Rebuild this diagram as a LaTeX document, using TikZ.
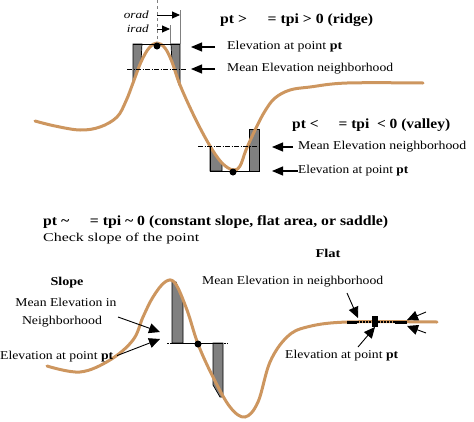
\documentclass[tikz,border=0pt]{standalone}
\usepackage{fontspec}
\setmainfont{Liberation Serif}
\usetikzlibrary{arrows.meta}
\definecolor{terra}{RGB}{205,150,95}
\newsavebox\fitbox
\newcommand\fitw[2]{\sbox\fitbox{#2}\pgfmathsetmacro\fitsc{#1/\the\wd\fitbox}\scalebox{\fitsc}[1]{\usebox\fitbox}}
\tikzset{
  lbl/.style={inner sep=0pt, anchor=west, font=\fontsize{12}{14}\selectfont},
  ttl/.style={inner sep=0pt, anchor=west, font=\bfseries\fontsize{14}{16}\selectfont},
  arr/.style={-{Triangle[length=11pt,width=9pt]}, line width=1.1pt},
  barr/.style={-{Triangle[length=11pt,width=10pt]}, line width=0.9pt},
  sarr/.style={-{Triangle[length=8pt,width=7pt]}, line width=0.9pt},
  terrain/.style={line width=3pt, color=terra, line cap=round},
  gbox/.style={fill=gray, draw=black, line width=0.7pt},
  dotn/.style={circle, fill=black, inner sep=0pt, minimum size=7pt},
  dashdot/.style={line width=0.8pt, dash pattern=on 5pt off 1.5pt on 1pt off 1.5pt},
}
\begin{document}
\begin{tikzpicture}[x=1pt,y=-1pt]
\useasboundingbox (0,0) rectangle (474,421);
% gray neighborhood blocks
\filldraw[gbox] (133,44) -- (142,44) -- (141,62) -- (133,83) -- cycle;
\filldraw[gbox] (171,44) -- (180,44) -- (180,85) -- (179,85) -- (172,62) -- cycle;
\filldraw[gbox] (210,146) -- (222,163) -- (222,171) -- (210,171) -- cycle;
\filldraw[gbox] (249,129) rectangle (259,171);
\filldraw[gbox] (172,282) -- (176,282) -- (183,300) -- (183,343) -- (172,343) -- cycle;
\filldraw[gbox] (213,343) -- (223,343) -- (223,397) -- (220,397) -- (213,385) -- cycle;
% terrain profiles
\draw[terrain] plot[smooth, tension=0.6] coordinates {(35,121) (55,126) (80,130) (100,127) (117,117) (126,101) (133,83) (141,62) (149,48) (157,43) (165,48) (172,62) (180,85) (195,118) (210,146) (222,163) (233,170) (240,166) (246,150) (256,128) (265,111) (275,98) (290,90) (310,87) (347,83) (423,83)};
\draw[terrain] plot[smooth, tension=0.6] coordinates {(47,366) (80,372) (110,360) (133,340) (143,317) (153,297) (165,282) (175,283) (187,310) (198,344) (213,377) (230,407) (245,417) (258,402) (270,362) (287,337) (307,327) (347,322) (437,322)};
% box outlines and mean-elevation lines
\draw[line width=0.8pt] (133,44) -- (180,44);
\draw[line width=0.8pt] (210,146) -- (210,171) -- (259,171) -- (259,129);
\draw[line width=0.8pt] (172,343) -- (223,343);
\draw[dashdot] (127,69) -- (187,69);
\draw[dashdot] (198,146) -- (259,146);
\draw[line width=0.8pt, dash pattern=on 1.5pt off 1.5pt] (167,343) -- (228,343);
% flat neighborhood
\draw[line width=3pt] (347,322) -- (357,322);
\draw[line width=1.5pt, dash pattern=on 1.5pt off 1.5pt] (357,322) -- (372,322);
\fill (372,316) rectangle (378,327);
\draw[line width=1.5pt, dash pattern=on 1.5pt off 1.5pt] (378,322) -- (395,322);
\draw[line width=3pt] (395,322) -- (407,322);
% points
\node[dotn] (pk) at (157,46) {};
\node[dotn] (vl) at (233,172) {};
\node[dotn] (sl) at (198,344) {};
% radius markers
\draw[gray, dashed, line width=0.6pt] (157,0) -- (pk);
\draw[gray, line width=0.5pt] (180,10) -- (180,44);
\draw[gray, line width=0.5pt] (170,25) -- (170,44);
\node[inner sep=0pt, anchor=east, font=\itshape\fontsize{11}{13}\selectfont] (orad) at (149,15) {\fitw{25}{orad}};
\node[inner sep=0pt, anchor=east, font=\itshape\fontsize{11}{13}\selectfont] (irad) at (149,29) {\fitw{22}{irad}};
\coordinate (oradA) at (157,15); \coordinate (oradB) at (180,15);
\coordinate (iradA) at (157,29); \coordinate (iradB) at (170,29);
\draw[sarr] (oradA) -- (oradB);
\draw[sarr] (iradA) -- (iradB);
% titles
\node[ttl] (t1) at (220,20) {\fitw{153}{pt >\hspace{1.3em}= tpi > 0 (ridge)}};
\node[ttl] (t2) at (292,125) {\fitw{158}{pt <\hspace{1.3em}= tpi\ \ < 0 (valley)}};
\node[ttl] (t3) at (43,222) {\fitw{345}{pt \textasciitilde\hspace{1.3em}= tpi \textasciitilde\ 0 (constant slope, flat area, or saddle)}};
\node[lbl] (chk) at (43,239) {\fitw{156}{Check slope of the point}};
\node[ttl, anchor=center, font=\bfseries\fontsize{12}{14}\selectfont] (flat) at (328,253) {\fitw{25}{Flat}};
\node[ttl, anchor=center, font=\bfseries\fontsize{12}{14}\selectfont] (slope) at (67,283) {\fitw{33}{Slope}};
% ridge labels
\node[lbl] (re) at (227,47) {\fitw{115}{Elevation at point \textbf{pt}}};
\node[lbl] (rm) at (227,69) {\fitw{166}{Mean Elevation neighborhood}};
\coordinate (reT) at (191,47);
\coordinate (rmT) at (191,69);
\draw[arr, shorten <=12pt] (re.west) -- (reT);
\draw[arr, shorten <=12pt] (rm.west) -- (rmT);
% valley labels
\node[lbl] (vm) at (298,147) {\fitw{168}{Mean Elevation neighborhood}};
\node[lbl] (ve) at (298,171) {\fitw{110}{Elevation at point \textbf{pt}}};
\coordinate (vmT) at (272,147);
\coordinate (veT) at (272,171);
\draw[arr, shorten <=5pt] (vm.west) -- (vmT);
\draw[arr] (ve.west) -- (veT);
% slope labels
\node[lbl, anchor=center] (sm1) at (66,302) {\fitw{101}{Mean Elevation in}};
\node[lbl, anchor=center] (sm2) at (62,322) {\fitw{80}{Neighborhood}};
\node[lbl] (se) at (0,357) {\fitw{113}{Elevation at point \textbf{pt}}};
\coordinate (smS) at (118,317); \coordinate (smT) at (160,332);
\coordinate (seT) at (160,339);
\draw[barr] (smS) -- (smT);
\draw[barr, shorten <=4pt] (se.east) -- (seT);
% flat labels
\node[lbl] (fm) at (202,282) {\fitw{181}{Mean Elevation in neighborhood}};
\node[lbl] (fe) at (285,356) {\fitw{113}{Elevation at point \textbf{pt}}};
\coordinate (fmS) at (347,293); \coordinate (fmT) at (358,318);
\coordinate (feS) at (358,347); \coordinate (feT) at (375,327);
\coordinate (fr1S) at (426,312); \coordinate (fr1T) at (407,320);
\coordinate (fr2S) at (426,333); \coordinate (fr2T) at (407,326);
\draw[barr] (fmS) -- (fmT);
\draw[barr] (feS) -- (feT);
\draw[barr] (fr1S) -- (fr1T);
\draw[barr] (fr2S) -- (fr2T);
\end{tikzpicture}
\end{document}
